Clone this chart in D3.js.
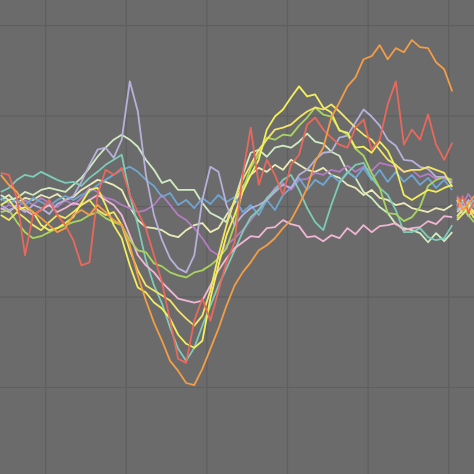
<!DOCTYPE html>
<html>
<head>
<meta charset="utf-8">
<script src="https://cdn.jsdelivr.net/npm/d3@7"></script>
<style>
html,body{margin:0;padding:0;background:#6b6b6b;}
svg{display:block;}
</style>
</head>
<body>
<svg id="chart" width="474" height="474"></svg>
<script>
// Time axis (samples) : main epoch, gap, then start of the next epoch
const mainTimes = d3.range(-55, 506, 10);
const gapTime = [508];
const tailTimes = [511, 518, 525, 532];
const times = mainTimes.concat(gapTime, tailTimes);

const xTicks = [0, 100, 200, 300, 400, 500];
const yTicks = [-180, -90, 0, 90, 180];

// Series values (57 main samples, null gap, 4 tail samples)
const lavender = [1,-4,-1,-6,1,-2,-8,2,6,10,24,41,56,58,48,66,124,94,31,-9,-34,-52,-62,-66,-49,6,39,34,1,-19,-9,-2,1,6,14,21,18,31,36,46,53,54,68,70,83,96,89,80,66,60,46,45,39,37,29,29,23, null, 4,-2,6,0];
const orange = [31,21,14,1,-6,-12,-19,-26,-22,-9,-4,-9,1,-6,-14,-19,-39,-69,-94,-116,-134,-154,-164,-176,-178,-162,-142,-122,-99,-79,-66,-56,-44,-39,-32,-22,-14,1,18,44,58,88,103,119,128,146,149,160,146,157,153,165,158,157,143,136,114, null, 8,-4,2,10];
const red = [33,31,8,-49,-9,-4,6,-9,-19,-34,-59,-56,11,36,31,38,11,-6,-22,-49,-76,-114,-152,-156,-114,-92,-114,-84,-56,-36,31,78,21,46,31,11,41,51,81,88,76,68,61,58,78,86,56,66,101,124,61,76,66,91,61,46,63, null, -2,10,-6,4];
const yellow = [1,6,-4,-1,-6,-19,-24,-22,-17,-11,3,16,18,1,-19,-32,-59,-81,-86,-96,-102,-112,-128,-137,-141,-134,-92,-59,-29,-9,14,31,46,76,89,96,108,119,109,111,98,93,75,73,58,59,53,64,55,38,11,6,11,16,14,18,21, null, -10,-4,3,-8];
const yellow2 = [-9,-14,-6,-12,-19,-24,-16,-9,-12,-6,1,6,-4,-9,-6,-19,-44,-64,-79,-84,-89,-94,-104,-112,-119,-109,-84,-49,-19,6,26,41,56,66,76,78,81,88,94,98,96,101,94,86,78,71,66,56,46,41,34,36,36,39,36,33,19, null, -14,-8,-2,-12];
const green = [-6,-4,-16,-26,-32,-30,-26,-22,-19,-16,-14,-9,-6,-12,-16,-19,-34,-44,-46,-57,-60,-66,-69,-71,-66,-64,-59,-52,-42,-19,16,38,51,68,66,71,70,80,88,98,91,89,76,71,57,50,33,18,-7,-8,-15,-11,-1,20,26,29,26, null, -12,-2,-9,-16];
const blue = [8,3,6,1,8,4,0,6,10,6,11,14,21,26,31,36,39,34,26,20,9,13,1,6,-2,8,2,11,4,9,-6,1,-9,6,-4,11,18,28,16,26,21,31,24,34,28,38,26,36,24,34,24,31,21,28,18,26,16, null, 2,-6,4,-2];
const pink = [-2,-6,1,-4,-9,-4,1,-6,-2,3,1,6,11,6,1,-9,-29,-49,-59,-66,-76,-84,-92,-94,-96,-94,-79,-64,-52,-42,-36,-30,-31,-22,-21,-14,-18,-20,-31,-30,-35,-29,-32,-22,-28,-19,-26,-20,-19,-17,-24,-22,-21,-15,-18,-10,-11, null, -6,0,-10,-4];
const teal = [14,18,26,31,29,34,30,26,23,24,20,28,34,41,46,51,11,-19,-54,-79,-97,-121,-142,-154,-141,-119,-99,-79,-62,-44,-26,-11,-4,8,16,26,31,16,-2,-16,-24,1,23,33,41,43,28,18,11,-4,-26,-26,-22,-31,-34,-32,-19, null, -4,4,-2,6];
const purple = [-4,1,-2,6,1,8,3,-1,6,1,8,18,14,8,6,1,-2,-6,-4,1,11,1,-9,-14,-22,-32,-44,-49,-39,-32,-24,-14,-4,6,18,23,16,26,27,33,31,36,34,40,34,39,35,43,41,39,34,36,29,32,27,28,24, null, 10,2,12,4];
const mint = [11,6,8,14,11,16,18,16,14,21,28,38,49,58,66,71,66,59,46,36,23,26,16,16,16,3,-7,-11,-16,6,31,53,56,49,58,60,58,64,72,64,62,54,50,34,28,14,8,-1,-7,-18,-22,-24,-27,-36,-27,-35,-26, null, 0,6,-4,2];
const pale = [6,11,3,8,6,11,8,12,6,9,16,21,26,24,21,16,-1,-14,-21,-22,-24,-29,-31,-24,-19,-17,-26,-22,-9,3,19,31,38,34,41,36,46,41,36,34,38,31,28,21,18,11,16,8,6,1,3,-2,-4,-6,-2,-4,1, null, 6,-8,0,-6];

const seriesNames = ["pale","mint","purple","blue","teal","pink","green","lavender","yellow2","yellow","red","orange"];
const seriesValues = {pale, mint, purple, blue, teal, pink, green, lavender, yellow2, yellow, red, orange};
const seriesColors = {
  pale:"#ebebb8", mint:"#d0ebc2", purple:"#b47cc2", blue:"#6fa7d3", teal:"#7ecbb7",
  pink:"#f1b6d4", green:"#a8d55e", lavender:"#b7b0da", yellow2:"#f2e466",
  yellow:"#f3ef5c", red:"#e9685c", orange:"#f39d46"
};

const W = 474, H = 474;
const svg = d3.select("#chart");
const x = d3.scaleLinear().domain([-56, 532]).range([0, W]);
const y = d3.scaleLinear().domain([-266.5, 204.9]).range([H, 0]);

svg.append("rect").attr("width", W).attr("height", H).attr("fill", "#6b6b6b");

// grid via axes
const gx = svg.append("g").attr("transform", `translate(0,${H})`)
  .call(d3.axisBottom(x).tickValues(xTicks).tickSize(-H).tickFormat(""));
const gy = svg.append("g")
  .call(d3.axisLeft(y).tickValues(yTicks).tickSize(-W).tickFormat(""));
[gx, gy].forEach(g => {
  g.select(".domain").remove();
  g.selectAll(".tick line").attr("stroke", "#5f5f5f").attr("stroke-width", 1.2);
});

const line = d3.line()
  .defined(d => d[1] != null)
  .x(d => x(d[0]))
  .y(d => y(d[1]))
  .curve(d3.curveLinear);

seriesNames.forEach(name => {
  const pts = times.map((t, i) => [t, seriesValues[name][i]]);
  svg.append("path")
    .datum(pts)
    .attr("fill", "none")
    .attr("stroke", seriesColors[name])
    .attr("stroke-width", 1.8)
    .attr("stroke-linejoin", "round")
    .attr("d", line);
});
</script>
</body>
</html>
